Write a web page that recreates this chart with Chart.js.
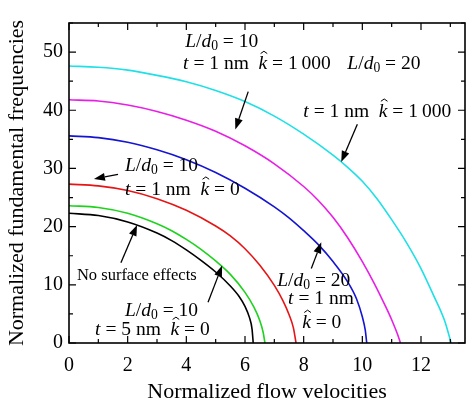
<!DOCTYPE html>
<html>
<head>
<meta charset="utf-8">
<script src="https://cdn.jsdelivr.net/npm/chart.js@4.4.0/dist/chart.umd.min.js"></script>
<style>
  html, body { margin: 0; padding: 0; background: #fff; }
  #wrap { width: 474px; height: 412px; }
</style>
</head>
<body>
<div id="wrap"><canvas id="myChart" width="474" height="412"></canvas></div>
<script>
// values
const blackX = [0, 1, 2, 3, 3.5, 4, 4.5, 5, 5.5, 5.8, 6.0, 6.15, 6.24, 6.28];
const blackY = [22.3, 21.9, 20.8, 18.9, 17.6, 16.0, 14.2, 12.2, 9.8, 8.0, 6.3, 4.4, 2.4, 0];

const greenX = [0, 1, 2, 3, 3.5, 4, 4.5, 5, 5.5, 6, 6.3, 6.5, 6.62, 6.68];
const greenY = [23.6, 23.3, 22.3, 20.5, 19.3, 17.8, 16.1, 14.1, 11.8, 8.7, 6.2, 3.9, 1.8, 0];

const redX = [0, 1, 2, 3, 4, 5, 5.5, 6, 6.5, 7, 7.3, 7.5, 7.65, 7.74];
const redY = [27.3, 27.0, 26.2, 24.8, 22.8, 20.1, 18.4, 16.2, 13.4, 9.9, 7.2, 4.9, 2.6, 0];

const blueX = [0, 1, 2, 3, 4, 5, 6, 7, 7.5, 8, 8.5, 9, 9.5, 9.8, 10.0, 10.1, 10.15];
const blueY = [35.6, 35.3, 34.5, 33.2, 31.5, 29.3, 26.6, 23.4, 21.5, 19.3, 16.9, 14.0, 10.5, 7.6, 4.5, 2.2, 0];

const magentaX = [0, 1, 2, 3, 4, 5, 6, 7, 8, 8.5, 9, 9.5, 10, 10.4, 10.8, 11.0, 11.2, 11.3];
const magentaY = [41.8, 41.6, 40.9, 39.8, 38.3, 36.4, 33.9, 30.8, 26.9, 24.5, 21.6, 18.1, 14.0, 10.3, 6.2, 4.0, 1.5, 0];

const cyanX = [0, 1, 2, 3, 4, 5, 6, 7, 8, 9, 9.5, 10, 10.5, 11, 11.5, 12, 12.4, 12.8, 13.03];
const cyanY = [47.6, 47.4, 46.9, 46.0, 44.9, 43.4, 41.5, 39.0, 35.9, 32.3, 30.2, 27.8, 24.8, 21.2, 17.3, 12.8, 8.5, 3.9, 0];

const xTicks = [0, 2, 4, 6, 8, 10, 12];
const yTicks = [0, 10, 20, 30, 40, 50];

const serif = '"Liberation Serif", "DejaVu Serif", serif';

const toPoints = (xs, ys) => xs.map((x, i) => ({ x: x, y: ys[i] }));

const makeSet = (xs, ys, color) => ({
    data: toPoints(xs, ys),
    borderColor: color,
    borderWidth: 1.6,
    pointRadius: 0,
    fill: false,
    cubicInterpolationMode: 'monotone'
});

// annotations in data coordinates; parts: [text, style] i=italic, r=roman, s=subscript, h=k with hat
const notes = [
    { x: 3.96, y: 51.7, parts: [['L', 'i'], ['/', 'r'], ['d', 'i'], ['0', 's'], [' = 10', 'r']] },
    { x: 3.89, y: 48.0, parts: [['t', 'i'], [' = 1 nm\u2002', 'r'], ['k', 'h'], [' = 1\u2009000', 'r']] },
    { x: 9.49, y: 48.0, parts: [['L', 'i'], ['/', 'r'], ['d', 'i'], ['0', 's'], [' = 20', 'r']] },
    { x: 7.99, y: 39.8, parts: [['t', 'i'], [' = 1 nm\u2002', 'r'], ['k', 'h'], [' = 1\u2009000', 'r']] },
    { x: 1.91, y: 30.4, parts: [['L', 'i'], ['/', 'r'], ['d', 'i'], ['0', 's'], [' = 10', 'r']] },
    { x: 1.91, y: 26.4, parts: [['t', 'i'], [' = 1 nm\u2002', 'r'], ['k', 'h'], [' = 0', 'r']] },
    { x: 0.27, y: 11.6, size: 16.5, parts: [['No surface effects', 'r']] },
    { x: 1.91, y: 5.5, parts: [['L', 'i'], ['/', 'r'], ['d', 'i'], ['0', 's'], [' = 10', 'r']] },
    { x: 0.89, y: 2.3, parts: [['t', 'i'], [' = 5 nm\u2002', 'r'], ['k', 'h'], [' = 0', 'r']] },
    { x: 7.1, y: 10.7, parts: [['L', 'i'], ['/', 'r'], ['d', 'i'], ['0', 's'], [' = 20', 'r']] },
    { x: 7.47, y: 7.6, parts: [['t', 'i'], [' = 1 nm', 'r']] },
    { x: 7.95, y: 3.5, parts: [['k', 'h'], [' = 0', 'r']] }
];

const arrows = [
    [6.11, 43.2, 5.67, 36.7],
    [9.83, 37.6, 9.28, 31.1],
    [1.67, 29.0, 0.85, 28.2],
    [1.77, 13.8, 2.32, 20.3],
    [4.74, 7.0, 5.22, 13.3],
    [8.26, 12.8, 8.6, 17.3]
];

const drawRich = (ctx, x, y, parts, size) => {
    let cx = x;
    parts.forEach(([txt, st]) => {
        if (st === 's') {
            ctx.font = (size * 0.7) + 'px ' + serif;
            ctx.fillText(txt, cx, y + size * 0.22);
        } else if (st === 'r') {
            ctx.font = size + 'px ' + serif;
            ctx.fillText(txt, cx, y);
        } else {
            ctx.font = 'italic ' + size + 'px ' + serif;
            ctx.fillText(txt, cx, y);
            if (st === 'h') {
                const w = ctx.measureText(txt).width;
                const hx = cx + w * 0.62, hy = y - size * 0.62;
                ctx.beginPath();
                ctx.moveTo(hx - size * 0.17, hy + size * 0.1);
                ctx.lineTo(hx, hy - size * 0.02);
                ctx.lineTo(hx + size * 0.17, hy + size * 0.1);
                ctx.lineWidth = 1;
                ctx.stroke();
            }
        }
        cx += ctx.measureText(txt).width;
    });
};

const framePlugin = {
    id: 'frame',
    afterDraw(chart) {
        const ctx = chart.ctx;
        const a = chart.chartArea;
        const xs = chart.scales.x, ys = chart.scales.y;
        ctx.save();
        ctx.strokeStyle = '#000';
        ctx.fillStyle = '#000';
        ctx.lineWidth = 1.6;
        ctx.strokeRect(a.left, a.top, a.right - a.left, a.bottom - a.top);
        ctx.lineWidth = 1.2;
        // inward ticks on all four sides
        for (let v = 0; v <= 13; v++) {
            const p = xs.getPixelForValue(v);
            const len = v % 2 === 0 ? 7 : 4;
            ctx.beginPath();
            ctx.moveTo(p, a.bottom); ctx.lineTo(p, a.bottom - len);
            ctx.moveTo(p, a.top); ctx.lineTo(p, a.top + len);
            ctx.stroke();
        }
        for (let v = 0; v <= 55; v += 5) {
            const p = ys.getPixelForValue(v);
            const len = v % 10 === 0 ? 7 : 4;
            ctx.beginPath();
            ctx.moveTo(a.left, p); ctx.lineTo(a.left + len, p);
            ctx.moveTo(a.right, p); ctx.lineTo(a.right - len, p);
            ctx.stroke();
        }
        // arrows
        arrows.forEach(([x1, y1, x2, y2]) => {
            const px1 = xs.getPixelForValue(x1), py1 = ys.getPixelForValue(y1);
            const px2 = xs.getPixelForValue(x2), py2 = ys.getPixelForValue(y2);
            const ang = Math.atan2(py2 - py1, px2 - px1);
            const hl = 11, hw = 4;
            const bx = px2 - hl * Math.cos(ang), by = py2 - hl * Math.sin(ang);
            ctx.lineWidth = 1.3;
            ctx.beginPath();
            ctx.moveTo(px1, py1); ctx.lineTo(bx, by);
            ctx.stroke();
            ctx.beginPath();
            ctx.moveTo(px2, py2);
            ctx.lineTo(bx + hw * Math.sin(ang), by - hw * Math.cos(ang));
            ctx.lineTo(bx - hw * Math.sin(ang), by + hw * Math.cos(ang));
            ctx.closePath();
            ctx.fill();
        });
        // labels
        ctx.textBaseline = 'middle';
        ctx.textAlign = 'left';
        notes.forEach(n => {
            drawRich(ctx, xs.getPixelForValue(n.x), ys.getPixelForValue(n.y), n.parts, n.size || 19.5);
        });
        ctx.restore();
    }
};

const ctx = document.querySelector('#myChart').getContext('2d');

new Chart(ctx, {
    type: 'line',
    data: {
        datasets: [
            makeSet(cyanX, cyanY, '#1ee0e6'),
            makeSet(magentaX, magentaY, '#e81ee6'),
            makeSet(blueX, blueY, '#1414d2'),
            makeSet(redX, redY, '#e61414'),
            makeSet(greenX, greenY, '#1ed21e'),
            makeSet(blackX, blackY, '#000000')
        ]
    },
    options: {
        responsive: false,
        animation: false,
        layout: { padding: { top: 23, right: 9, left: 0, bottom: 0 } },
        plugins: { legend: { display: false }, tooltip: { enabled: false } },
        scales: {
            x: {
                type: 'linear',
                min: 0,
                max: 13.5,
                afterBuildTicks: s => { s.ticks = xTicks.map(v => ({ value: v })); },
                afterFit: s => { s.height = 69; },
                grid: { display: false, drawTicks: false, tickLength: 0 },
                border: { display: false },
                ticks: { color: '#000', font: { family: serif, size: 20 }, padding: 11, maxRotation: 0 },
                title: {
                    display: true,
                    text: 'Normalized flow velocities',
                    color: '#000',
                    font: { family: serif, size: 22 },
                    padding: { top: 0, bottom: 7 }
                }
            },
            y: {
                min: 0,
                max: 55,
                afterBuildTicks: s => { s.ticks = yTicks.map(v => ({ value: v })); },
                afterFit: s => { s.width = 69; },
                grid: { display: false, drawTicks: false, tickLength: 0 },
                border: { display: false },
                ticks: { color: '#000', font: { family: serif, size: 20 }, padding: 6 },
                title: {
                    display: true,
                    text: 'Normalized fundamental frequencies',
                    color: '#000',
                    font: { family: serif, size: 22 },
                    padding: { top: 4, bottom: 4 }
                }
            }
        }
    },
    plugins: [framePlugin]
});
</script>
</body>
</html>
